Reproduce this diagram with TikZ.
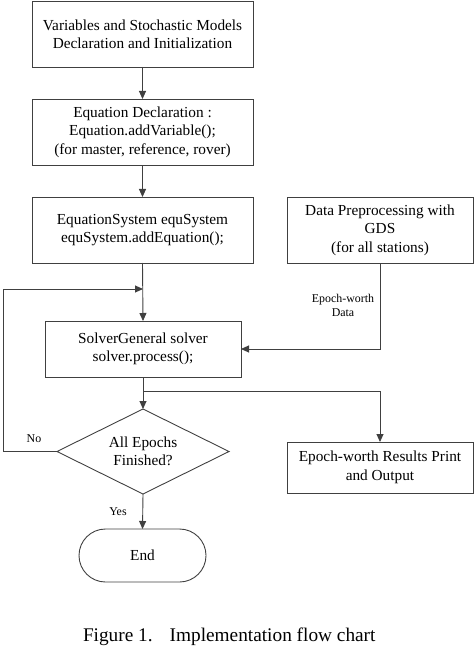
\documentclass[tikz,border=0pt]{standalone}
\usepackage{fontspec}
\setmainfont{Liberation Serif}
\usetikzlibrary{shapes.geometric,shapes.misc,arrows.meta}
\begin{document}
\begin{tikzpicture}[x=1bp,y=-1bp,
  every node/.style={inner sep=0pt, outer sep=0pt},
  box/.style={draw=black!75, line width=0.9bp, rectangle, align=center,
    font=\fontsize{15.3bp}{18.4bp}\selectfont},
  dec/.style={draw=black!75, line width=0.9bp, diamond, align=center,
    minimum width=172bp, minimum height=85bp, aspect=2,
    font=\fontsize{15.3bp}{18.4bp}\selectfont},
  term/.style={draw=black!75, line width=0.9bp, rounded rectangle, align=center,
    font=\fontsize{15.3bp}{18.4bp}\selectfont},
  lbl/.style={align=center, font=\fontsize{11.9bp}{14bp}\selectfont},
  conn/.style={draw=black!75, line width=0.9bp, -{Triangle[width=7bp,length=8bp]}},
  line/.style={draw=black!75, line width=0.9bp}
]
\useasboundingbox (0,0) rectangle (474,647);

\node[box, minimum width=221bp, minimum height=66bp] (b1) at (142.5,34)
  {Variables and Stochastic Models\\Declaration and Initialization};
\node[box, minimum width=221bp, minimum height=66bp] (b2) at (142.5,132)
  {Equation Declaration :\\Equation.addVariable();\\(for master, reference, rover)};
\node[box, minimum width=221bp, minimum height=66bp] (b3) at (142.5,230)
  {EquationSystem equSystem\\equSystem.addEquation();};
\node[box, minimum width=186bp, minimum height=66bp] (dp) at (380,230)
  {Data Preprocessing with\\GDS\\(for all stations)};
\node[box, minimum width=196bp, minimum height=56bp] (sv) at (143,349)
  {SolverGeneral solver\\solver.process();};
\node[dec] (dm) at (143,451.5) {All Epochs\\Finished?};
\node[box, minimum width=186bp, minimum height=51bp] (res) at (380,467.5)
  {Epoch-worth Results Print\\and Output};
\node[term, minimum width=127bp, minimum height=53bp] (end) at (142.5,555.5) {End};

\coordinate (j1) at (143,289);
\coordinate (j2) at (143,391);
\coordinate (lp) at (3,451.5);

\draw[conn] (b1.south) -- (b2.north);
\draw[conn] (b2.south) -- (b3.north);
\draw[conn] (b3.south) -- (sv.north);
\draw[conn] (dm.west) -- (lp) |- (j1);
\draw[conn] (dp.south) |- (sv.east);
\draw[conn] (sv.south) -- (dm.north);
\draw[conn] (j2) -| (res.north);
\draw[conn] (dm.south) -- (end.north);

\node[lbl] (l1) at (343,305) {Epoch-worth\\Data};
\node[lbl] (l2) at (34,439) {No};
\node[lbl] (l3) at (118,512) {Yes};
\node[anchor=base west, font=\fontsize{19.3bp}{22bp}\selectfont] (cap) at (83,641.5)
  {Figure 1.\hspace{17bp}Implementation flow chart};
\end{tikzpicture}
\end{document}
